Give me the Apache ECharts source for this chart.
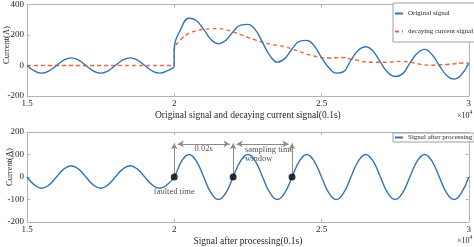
<!DOCTYPE html>
<html>
<head>
<meta charset="utf-8">
<script src="https://cdn.jsdelivr.net/npm/echarts@6/dist/echarts.min.js"></script>
<style>
  html, body { margin: 0; padding: 0; background: #fff; }
  #chart { width: 474px; height: 247px; }
</style>
</head>
<body>
<div id="chart"></div>
<script>
// time axis in units of 1e4 samples (0.1s)
const tPre = [1.5, 1.525, 1.55, 1.575, 1.6, 1.625, 1.65, 1.675, 1.7, 1.725, 1.75,
  1.775, 1.8, 1.825, 1.85, 1.875, 1.9, 1.925, 1.95, 1.975, 2.0]
const tPost = [2.0, 2.025, 2.05, 2.075, 2.1, 2.125, 2.15, 2.175, 2.2, 2.225, 2.25,
  2.275, 2.3, 2.325, 2.35, 2.375, 2.4, 2.425, 2.45, 2.475, 2.5,
  2.525, 2.55, 2.575, 2.6, 2.625, 2.65, 2.675, 2.7, 2.725, 2.75,
  2.775, 2.8, 2.825, 2.85, 2.875, 2.9, 2.925, 2.95, 2.975, 3.0]

// before the fault (same in both plots)
const preFault = [0, -35, -50, -35, 0, 35, 50, 35, 0, -35, -50, -35, 0, 35, 50, 35, 0, -35, -50, -35, 0]
const decayPre = [0, 0, 0, 0, 0, 0, 0, 0, 0, 0, 0, 0, 0, 0, 0, 0, 0, 0, 0, 0, 0]

// after the fault
const originalPost = [100, 250, 310, 295, 237, 170, 142, 165, 222, 265, 270,
  235, 150, 65, 22, 45, 108, 158, 165, 130, 52,
  -15, -50, -40, 35, 100, 123, 95, 22, -45, -72,
  -55, 15, 80, 106, 72, 0, -65, -89, -60, 15]
const decayPost = [100, 175, 210, 228, 237, 241, 242, 235, 220, 203, 185,
  168, 152, 140, 132, 123, 108, 92, 75, 62, 52,
  49, 51, 52, 42, 33, 23, 21, 21, 22, 25,
  27, 22, 12, 4, 2, 4, 7, 11, 16, 17]
const processedPost = [0, 71, 100, 71, 0, -71, -100, -71, 0, 71, 100,
  71, 0, -71, -100, -71, 0, 71, 100, 71, 0,
  -71, -100, -71, 0, 71, 100, 71, 0, -71, -100,
  -71, 0, 71, 100, 71, 0, -71, -100, -71, 0]

// marked instants and annotation text
const dotX = [2.0, 2.2, 2.4]
const arrowLevel = 150
const noteX = [2.1, 2.24, 2.0]
const noteY = [126, 102, -64]
const noteText = ["0.02s", "sampling time\nwindow", "faulted time"]

const font = "Liberation Serif"
const textCol = "#262626"
const axisGrey = "#b4b4b4"
const blue = "#3574b2"
const red = "#e2673f"

const pairs = (xs, ys) => xs.map((x, i) => [x, ys[i]])

const originalData = pairs(tPre, preFault).concat(pairs(tPost, originalPost))
const decayData = pairs(tPre, decayPre).concat(pairs(tPost, decayPost))
const processedData = pairs(tPre, preFault).concat(pairs(tPost, processedPost).slice(1))

const myChart = echarts.init(document.getElementById("chart"), null, { renderer: "canvas" })

const tick = { inside: true, length: 3, lineStyle: { color: axisGrey } }
const line = { show: true, onZero: false, lineStyle: { color: axisGrey } }
const lbl = { color: textCol, fontSize: 9, fontFamily: font, margin: 3 }

function xAx(grid, position, name) {
  return {
    gridIndex: grid, type: "value", position: position,
    min: 1.5, max: 3, interval: 0.5,
    axisLine: line, axisTick: tick,
    axisLabel: position === "bottom" ? lbl : { show: false },
    splitLine: { show: false },
    name: name || "", nameLocation: "middle", nameGap: 14,
    nameTextStyle: { color: textCol, fontSize: 9.5, fontFamily: font }
  }
}
function yAx(grid, position, min, max, interval) {
  return {
    gridIndex: grid, type: "value", position: position,
    min: min, max: max, interval: interval,
    axisLine: line, axisTick: tick,
    axisLabel: position === "left" ? lbl : { show: false },
    splitLine: { show: false }
  }
}

const legendBase = {
  itemWidth: 9, itemHeight: 8,
  itemStyle: { opacity: 0 },
  borderColor: "#a0a0a0", borderWidth: 1, backgroundColor: "#fff",
  textStyle: { color: textCol, fontSize: 7, fontFamily: font }
}

const option = {
  animation: false,
  backgroundColor: "#fff",
  textStyle: { fontFamily: font },
  grid: [
    { left: 27, right: 3, top: 3, height: 93 },
    { left: 27, right: 3, top: 132, height: 94 }
  ],
  xAxis: [
    xAx(0, "bottom", "Original signal and decaying current signal(0.1s)"),
    xAx(0, "top"),
    xAx(1, "bottom", "Signal after processing(0.1s)"),
    xAx(1, "top")
  ],
  yAxis: [
    yAx(0, "left", -200, 400, 200),
    yAx(0, "right", -200, 400, 200),
    yAx(1, "left", -200, 200, 100),
    yAx(1, "right", -200, 200, 100)
  ],
  legend: [
    Object.assign({}, legendBase, {
      data: ["Original signal", "decaying current signal"],
      orient: "vertical", left: 393, top: 3,
      itemGap: 11, itemWidth: 8,
      padding: [7, 2, 7, 1]
    }),
    Object.assign({}, legendBase, {
      data: ["Signal after processing"],
      left: 393, top: 133, itemWidth: 8,
      padding: [1, 2, 1, 1]
    })
  ],
  graphic: [
    { type: "text", x: 7, y: 45, rotation: Math.PI / 2,
      style: { text: "Current(A)", fill: textCol, font: "8.5px " + font, align: "center", verticalAlign: "middle" } },
    { type: "text", x: 10, y: 167, rotation: Math.PI / 2,
      style: { text: "Current(A)", fill: textCol, font: "8.5px " + font, align: "center", verticalAlign: "middle" } },
    { type: "text", x: 457, y: 110,
      style: { text: "{a|×10}{b|4}", rich: { a: { fontSize: 8, fontFamily: font, fill: textCol }, b: { fontSize: 5.5, fontFamily: font, fill: textCol, padding: [0, 0, 5, 0] } } } },
    { type: "text", x: 457, y: 235,
      style: { text: "{a|×10}{b|4}", rich: { a: { fontSize: 8, fontFamily: font, fill: textCol }, b: { fontSize: 5.5, fontFamily: font, fill: textCol, padding: [0, 0, 5, 0] } } } }
  ],
  series: [
    {
      name: "Original signal", type: "line", xAxisIndex: 0, yAxisIndex: 0,
      data: originalData, smooth: 0.45, showSymbol: false, symbol: "none",
      lineStyle: { color: blue, width: 1.4 }, itemStyle: { color: blue }, z: 3
    },
    {
      name: "decaying current signal", type: "line", xAxisIndex: 0, yAxisIndex: 0,
      data: decayData, smooth: 0.45, showSymbol: false, symbol: "none",
      lineStyle: { color: red, width: 1.4, type: [4, 3] }, itemStyle: { color: red }, z: 2
    },
    {
      name: "Signal after processing", type: "line", xAxisIndex: 2, yAxisIndex: 2,
      data: processedData, smooth: 0.45, showSymbol: false, symbol: "none",
      lineStyle: { color: blue, width: 1.4 }, itemStyle: { color: blue }
    },
    {
      name: "dots", type: "scatter", xAxisIndex: 2, yAxisIndex: 2,
      data: dotX.map((x) => [x, 0]), symbolSize: 7,
      itemStyle: { color: "#000" }, z: 5, silent: true,
      markLine: {
        silent: true, animation: false,
        label: { show: false },
        lineStyle: { color: "#8a8a8a", width: 1, type: "solid" },
        symbolSize: [5, 6],
        data: dotX.map((x) => [
          { coord: [x, 0], symbol: "none" },
          { coord: [x, arrowLevel], symbol: "arrow" }
        ]).concat(dotX.slice(0, 2).map((x, i) => [
          { coord: [x + 0.012, arrowLevel - 3], symbol: "arrow" },
          { coord: [dotX[i + 1] - 0.012, arrowLevel - 3], symbol: "arrow" }
        ]))
      }
    },
    {
      name: "notes", type: "scatter", xAxisIndex: 2, yAxisIndex: 2,
      data: noteX.map((x, i) => [x, noteY[i]]), symbolSize: 0, silent: true,
      label: {
        show: true, position: "inside", color: textCol, fontSize: 8.5, fontFamily: font,
        lineHeight: 9,
        align: "center",
        formatter: (p) => noteText[p.dataIndex]
      },
      labelLayout: (p) => p.dataIndex === 1 ? { align: "left" } : {}
    }
  ]
}

myChart.setOption(option)
window.addEventListener("resize", () => {
  myChart.resize()
})
</script>
</body>
</html>
